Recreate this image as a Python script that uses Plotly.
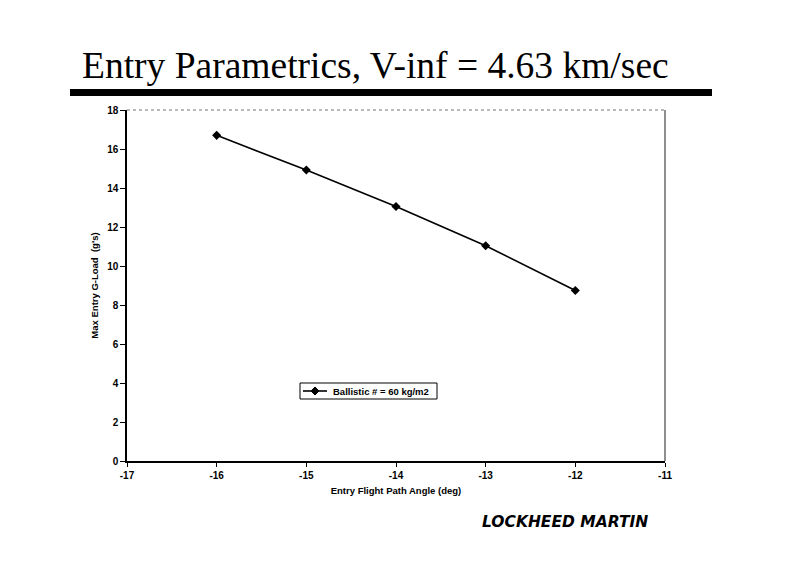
import plotly.graph_objects as go

# Data
angles = [-16, -15, -14, -13, -12]
g_load = [16.7, 14.92, 13.05, 11.04, 8.74]
series_name = "Ballistic # = 60 kg/m2"
x_ticks = [-17, -16, -15, -14, -13, -12, -11]
y_ticks = [0, 2, 4, 6, 8, 10, 12, 14, 16, 18]

title_text = "Entry Parametrics, V-inf = 4.63 km/sec"
x_title = "Entry Flight Path Angle (deg)"
y_title = "Max Entry G-Load  (g's)"
footer = "LOCKHEED MARTIN"

W, H = 787, 563
L, R, T, B = 127, 665, 110, 461


def px_x(p):
    return (p - L) / (R - L)


def px_y(p):
    return (B - p) / (B - T)


fig = go.Figure()
fig.add_trace(go.Scatter(
    x=angles, y=g_load, mode="lines+markers", name=series_name,
    line=dict(color="black", width=1.6),
    marker=dict(symbol="diamond", size=7, color="black"),
    showlegend=False,
))

tickfont = dict(family="Liberation Sans, Arial", size=10, color="black", weight="bold")
titlefont = dict(family="Liberation Sans, Arial", size=9.5, color="black", weight="bold")

# legend box geometry (pixels)
lx0, lx1, ly0, ly1 = 300, 437, 383, 399
lyc = (ly0 + ly1) / 2
dmx, dh = 315, 4
diamond = "M {},{} L {},{} L {},{} L {},{} Z".format(
    px_x(dmx - dh), px_y(lyc), px_x(dmx), px_y(lyc - dh),
    px_x(dmx + dh), px_y(lyc), px_x(dmx), px_y(lyc + dh))

fig.update_layout(
    width=W, height=H,
    margin=dict(l=L, r=W - R, t=T, b=H - B),
    paper_bgcolor="white", plot_bgcolor="white",
    showlegend=False,
    xaxis=dict(
        range=[-17, -11], tickvals=x_ticks, ticktext=[str(v) for v in x_ticks],
        showgrid=False, zeroline=False, showline=True, linecolor="black", linewidth=1.5,
        ticks="outside", ticklen=4, tickcolor="black", tickfont=tickfont,
        title=dict(text=x_title, font=titlefont, standoff=8),
    ),
    yaxis=dict(
        range=[0, 18], tickvals=y_ticks,
        showgrid=False, zeroline=False, showline=True, linecolor="black", linewidth=1.5,
        ticks="outside", ticklen=5, tickcolor="black", tickfont=tickfont,
        title=dict(text=y_title, font=titlefont, standoff=7),
    ),
    shapes=[
        # top border (dotted gray)
        dict(type="line", xref="paper", yref="paper", x0=0, x1=1, y0=1, y1=1,
             line=dict(color="#777777", width=1, dash="dot")),
        # right border
        dict(type="line", xref="paper", yref="paper", x0=1, x1=1, y0=0, y1=1,
             line=dict(color="#444444", width=1.2)),
        # thick bar under title
        dict(type="rect", xref="paper", yref="paper",
             x0=px_x(70), x1=px_x(712), y0=px_y(96), y1=px_y(89),
             fillcolor="black", line=dict(width=0)),
        # legend box
        dict(type="rect", xref="paper", yref="paper",
             x0=px_x(lx0), x1=px_x(lx1), y0=px_y(ly1), y1=px_y(ly0),
             fillcolor="white", line=dict(color="black", width=1)),
        dict(type="line", xref="paper", yref="paper",
             x0=px_x(303), x1=px_x(327), y0=px_y(lyc), y1=px_y(lyc),
             line=dict(color="black", width=1.6)),
        dict(type="path", xref="paper", yref="paper", path=diamond,
             fillcolor="black", line=dict(color="black", width=1)),
    ],
    annotations=[
        dict(text=title_text, xref="paper", yref="paper", x=px_x(80), y=px_y(88),
             xanchor="left", yanchor="bottom", showarrow=False,
             font=dict(family="Liberation Serif, Times New Roman", size=37.5, color="black")),
        dict(text=series_name, xref="paper", yref="paper", x=px_x(331), y=px_y(lyc),
             xanchor="left", yanchor="middle", showarrow=False,
             font=dict(family="Liberation Sans, Arial", size=9.5, color="black", weight="bold")),
        dict(text=footer, xref="paper", yref="paper", x=px_x(650), y=px_y(522),
             xanchor="right", yanchor="middle", showarrow=False,
             font=dict(family="DejaVu Sans", size=15.5, color="black", weight="bold", style="italic")),
    ],
)

fig.write_html("out.html")
